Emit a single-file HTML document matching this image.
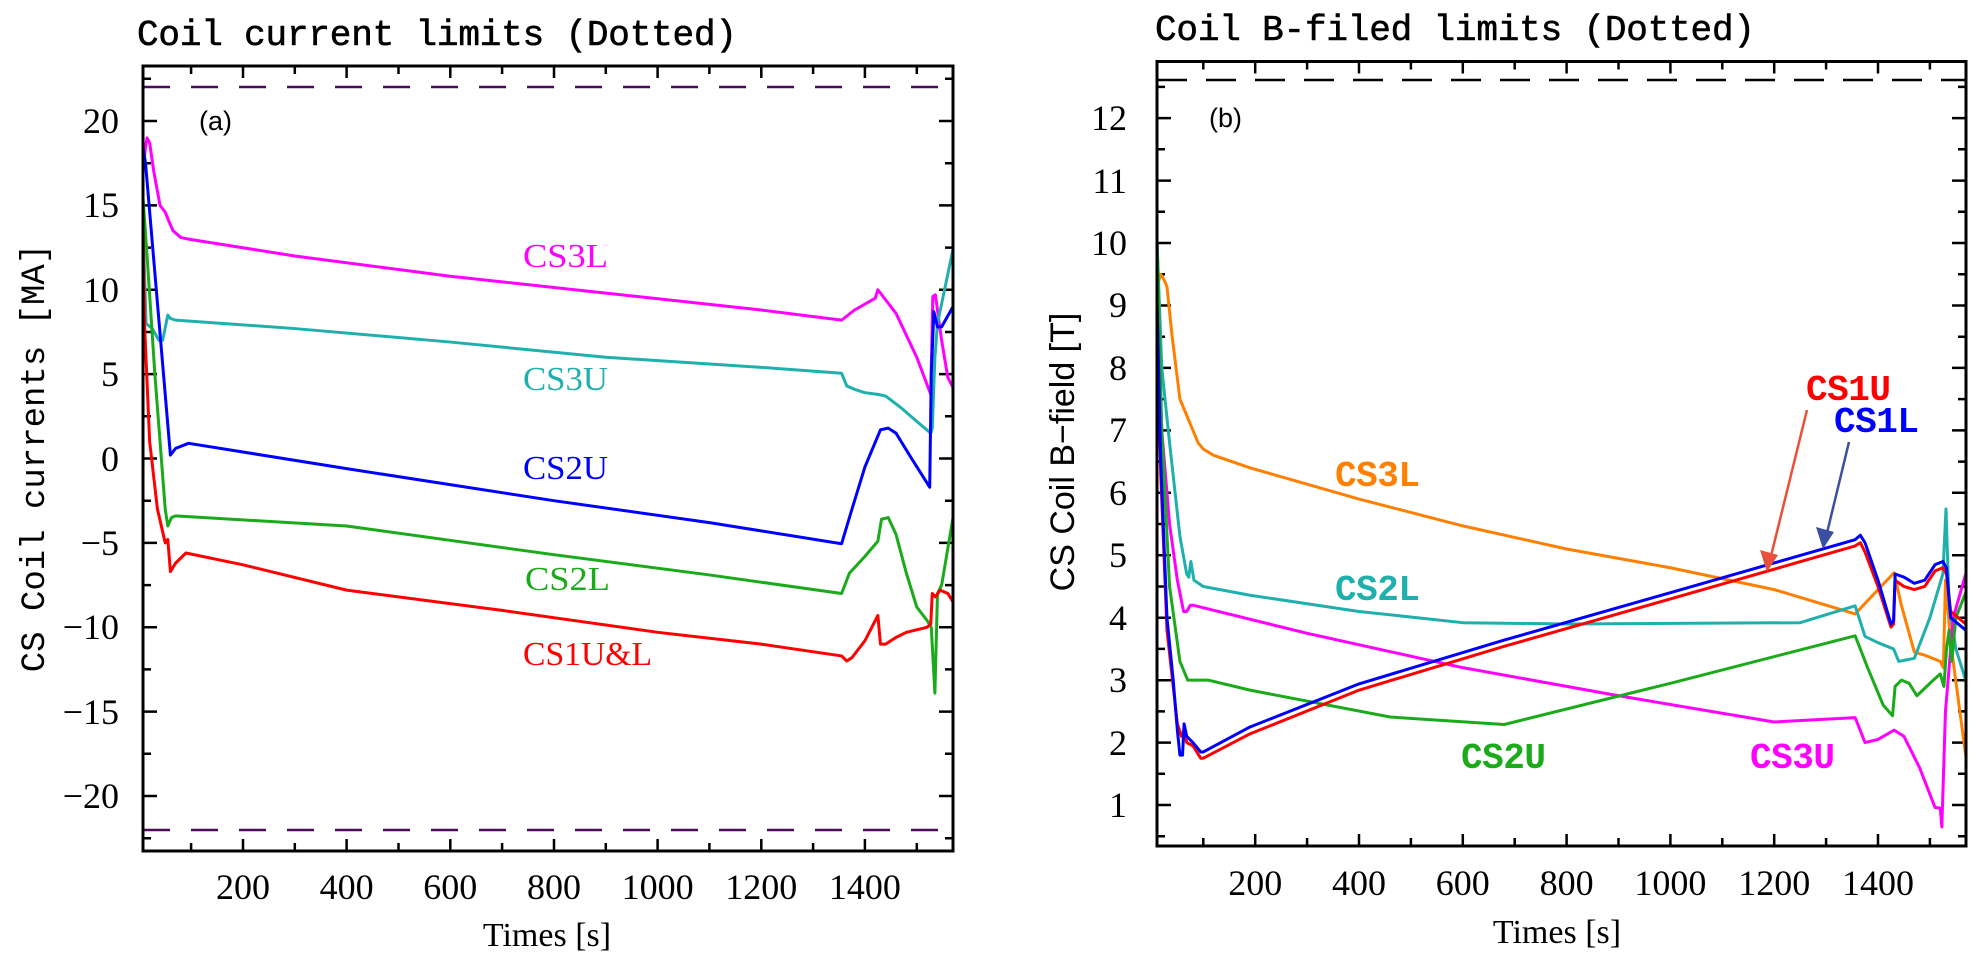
<!DOCTYPE html>
<html><head><meta charset="utf-8"><style>
html,body{margin:0;padding:0;background:#fff;}
svg{display:block;}
.t{font-family:"Liberation Serif",serif;font-size:36px;fill:#000;}
.mono{font-family:"Liberation Mono",monospace;font-size:36px;fill:#000;stroke:#000;stroke-width:0.6;}
.s{fill:none;stroke-width:3;vector-effect:non-scaling-stroke;stroke-linejoin:round;}
.lab{font-family:"Liberation Serif",serif;font-size:34px;}
.labr{font-family:"Liberation Mono",monospace;font-size:36px;font-weight:bold;}
</style></head><body>
<svg width="1979" height="968" viewBox="0 0 1979 968" xmlns="http://www.w3.org/2000/svg">
<defs>
<clipPath id="cl"><rect x="143" y="66" width="810" height="785"/></clipPath>
<clipPath id="cr"><rect x="1157" y="61.5" width="809" height="784.5"/></clipPath>
</defs>

<!-- ===== LEFT PLOT ===== -->
<text class="mono" x="137" y="45" textLength="600">Coil current limits (Dotted)</text>
<line x1="143" y1="87" x2="953" y2="87" stroke="#4b0a5a" stroke-width="2.5" stroke-dasharray="27,21"/>
<line x1="143" y1="830" x2="953" y2="830" stroke="#4b0a5a" stroke-width="2.5" stroke-dasharray="27,21"/>
<g stroke="#000" stroke-width="2.5" fill="none">
<path d="M143,121h14M143,205.4h14M143,289.75h14M143,374.1h14M143,458.5h14M143,542.9h14M143,627.25h14M143,711.6h14M143,796h14
M143,78.8h8M143,163.2h8M143,247.6h8M143,332h8M143,416.3h8M143,500.7h8M143,585.1h8M143,669.4h8M143,753.8h8M143,838.2h8
M953,121h-14M953,205.4h-14M953,289.75h-14M953,374.1h-14M953,458.5h-14M953,542.9h-14M953,627.25h-14M953,711.6h-14M953,796h-14
M953,78.8h-8M953,163.2h-8M953,247.6h-8M953,332h-8M953,416.3h-8M953,500.7h-8M953,585.1h-8M953,669.4h-8M953,753.8h-8M953,838.2h-8
M243,851v-12M346.6,851v-12M450.3,851v-12M554,851v-12M657.6,851v-12M761.3,851v-12M864.9,851v-12
M191.1,851v-8M294.8,851v-8M398.5,851v-8M502.1,851v-8M605.8,851v-8M709.4,851v-8M813.1,851v-8M916.8,851v-8
M243,66v12M346.6,66v12M450.3,66v12M554,66v12M657.6,66v12M761.3,66v12M864.9,66v12
M191.1,66v8M294.8,66v8M398.5,66v8M502.1,66v8M605.8,66v8M709.4,66v8M813.1,66v8M916.8,66v8"/>
</g>
<g clip-path="url(#cl)">
<g transform="matrix(0.5183 0 0 -16.875 139.3 458.5)">
<polyline class="s" stroke="#ff00ff" points="7,17 12,18.5 15,19 20,18.7 28,17 40,15 50,14.6 58,14 65,13.5 80,13.1 95,13 300,12 600,10.8 900,9.8 1200,8.8 1355,8.2 1380,8.8 1420,9.5 1425,10 1430,9.8 1460,8.6 1500,6 1527,3.8 1531,9.6 1536,9.7 1548,7 1560,4.8 1570,4.2"/>
<polyline class="s" stroke="#1fb0ad" points="7,14 10,11 13,8 25,7.7 38,7 45,7 55,8.5 60,8.3 70,8.2 300,7.7 600,6.9 900,6 1200,5.4 1355,5.05 1365,4.3 1380,4.1 1400,3.9 1425,3.8 1440,3.7 1470,3 1500,2.2 1527,1.5 1530,1.8 1535,6 1540,8 1570,12.4"/>
<polyline class="s" stroke="#0000ff" points="7,18.5 12,17.5 60,0.2 70,0.6 95,0.9 400,-0.6 800,-2.5 1100,-3.8 1355,-5.05 1375,-3 1400,-0.5 1430,1.7 1445,1.8 1460,1.5 1490,0 1525,-1.7 1528,5 1533,8.7 1540,7.8 1548,7.8 1570,9"/>
<polyline class="s" stroke="#1aaa1a" points="7,15.5 15,12 30,5 50,-3 55,-4 62,-3.5 70,-3.4 400,-4 800,-5.7 1100,-6.9 1355,-8 1370,-6.8 1400,-5.8 1425,-4.9 1432,-3.6 1445,-3.5 1460,-4.5 1480,-6.8 1500,-8.8 1520,-9.6 1528,-10 1535,-13.9 1540,-8 1548,-7.5 1570,-3.5"/>
<polyline class="s" stroke="#ff0000" points="7,14 10,8 20,1 35,-3 50,-5 55,-4.8 60,-6.7 70,-6.2 90,-5.6 200,-6.3 400,-7.8 700,-9 1000,-10.3 1200,-11 1355,-11.7 1365,-12 1375,-11.8 1400,-10.8 1425,-9.3 1430,-11 1440,-11 1460,-10.6 1480,-10.3 1520,-10 1527,-9.8 1530,-8 1536,-8.2 1545,-7.8 1560,-8 1570,-8.5"/>
</g></g>
<rect x="143" y="66" width="810" height="785" fill="none" stroke="#000" stroke-width="3"/>
<g class="t" text-anchor="end">
<text x="119" y="133">20</text><text x="119" y="217">15</text><text x="119" y="302">10</text><text x="119" y="386">5</text><text x="119" y="471">0</text>
<text x="119" y="555">−5</text><text x="119" y="639">−10</text><text x="119" y="724">−15</text><text x="119" y="808">−20</text>
</g>
<g class="t" text-anchor="middle">
<text x="243" y="899">200</text><text x="346.6" y="899">400</text><text x="450.3" y="899">600</text><text x="554" y="899">800</text><text x="657.6" y="899">1000</text><text x="761.3" y="899">1200</text><text x="864.9" y="899">1400</text>
<text x="547" y="946" style="font-size:34px">Times [s]</text>
</g>
<text class="t" transform="translate(44,458) rotate(-90)" text-anchor="middle" style="font-family:'Liberation Mono',monospace;font-size:34px">CS Coil currents [MA]</text>
<text x="199" y="130" style="font-family:'Liberation Sans',sans-serif;font-size:27px">(a)</text>
<text class="lab" x="523" y="267" fill="#ff00ff" textLength="85" lengthAdjust="spacingAndGlyphs">CS3L</text>
<text class="lab" x="523" y="390" fill="#1fb0ad" textLength="85" lengthAdjust="spacingAndGlyphs">CS3U</text>
<text class="lab" x="523" y="479" fill="#0000ff" textLength="85" lengthAdjust="spacingAndGlyphs">CS2U</text>
<text class="lab" x="525" y="590" fill="#1aaa1a" textLength="85" lengthAdjust="spacingAndGlyphs">CS2L</text>
<text class="lab" x="523" y="665" fill="#ff0000" textLength="129" lengthAdjust="spacingAndGlyphs">CS1U&amp;L</text>

<!-- ===== RIGHT PLOT ===== -->
<text class="mono" x="1155" y="40" textLength="600">Coil B-filed limits (Dotted)</text>
<line x1="1157" y1="80" x2="1966" y2="80" stroke="#000" stroke-width="2.5" stroke-dasharray="30,19"/>
<g stroke="#000" stroke-width="2.5" fill="none">
<path d="M1157,805h14M1157,742.6h14M1157,680.2h14M1157,617.7h14M1157,555.3h14M1157,492.8h14M1157,430.4h14M1157,367.9h14M1157,305.5h14M1157,243h14M1157,180.6h14M1157,118.1h14
M1157,836.3h8M1157,773.8h8M1157,711.4h8M1157,648.9h8M1157,586.5h8M1157,524h8M1157,461.6h8M1157,399.1h8M1157,336.7h8M1157,274.2h8M1157,211.8h8M1157,149.3h8M1157,86.9h8
M1966,805h-14M1966,742.6h-14M1966,680.2h-14M1966,617.7h-14M1966,555.3h-14M1966,492.8h-14M1966,430.4h-14M1966,367.9h-14M1966,305.5h-14M1966,243h-14M1966,180.6h-14M1966,118.1h-14
M1966,836.3h-8M1966,773.8h-8M1966,711.4h-8M1966,648.9h-8M1966,586.5h-8M1966,524h-8M1966,461.6h-8M1966,399.1h-8M1966,336.7h-8M1966,274.2h-8M1966,211.8h-8M1966,149.3h-8M1966,86.9h-8
M1255.2,846v-12M1359,846v-12M1462.8,846v-12M1566.6,846v-12M1670.4,846v-12M1774.2,846v-12M1878,846v-12
M1203.3,846v-8M1307.1,846v-8M1410.9,846v-8M1514.7,846v-8M1618.5,846v-8M1722.3,846v-8M1826.1,846v-8M1929.9,846v-8
M1255.2,61.5v12M1359,61.5v12M1462.8,61.5v12M1566.6,61.5v12M1670.4,61.5v12M1774.2,61.5v12M1878,61.5v12
M1203.3,61.5v8M1307.1,61.5v8M1410.9,61.5v8M1514.7,61.5v8M1618.5,61.5v8M1722.3,61.5v8M1826.1,61.5v8M1929.9,61.5v8"/>
</g>
<g clip-path="url(#cr)">
<g transform="matrix(0.519 0 0 -62.45 1151.4 867.5)">
<polyline class="s" stroke="#ff8000" points="11,9.3 18,9.5 25,9.4 30,9.3 40,8.5 55,7.5 65,7.3 80,7 90,6.8 100,6.7 120,6.6 190,6.4 400,5.9 600,5.47 800,5.1 1000,4.8 1200,4.45 1356,4.06 1400,4.45 1431,4.72 1445,4.2 1470,3.45 1490,3.4 1520,3.3 1526,3.2 1530,4.6 1540,3.6 1569,1.8"/>
<polyline class="s" stroke="#1fb0ad" points="11,10 20,8 35,6.8 55,5.3 68,4.7 72,4.65 76,4.9 82,4.6 100,4.5 190,4.36 400,4.1 600,3.92 800,3.9 1250,3.92 1356,4.19 1375,3.7 1400,3.6 1430,3.5 1440,3.3 1470,3.35 1500,4 1525,4.7 1531,5.74 1537,4.2 1550,3.5 1569,3"/>
<polyline class="s" stroke="#ff00ff" points="11,9 20,7 35,5.5 50,4.6 62,4.1 68,4.1 75,4.2 80,4.2 300,3.75 600,3.2 900,2.75 1200,2.33 1356,2.4 1375,2 1400,2.05 1431,2.2 1450,2.1 1480,1.6 1510,0.96 1520,0.95 1523,0.65 1530,2.5 1545,4 1569,4.7"/>
<polyline class="s" stroke="#1aaa1a" points="11,10 20,7 35,4.5 55,3.3 70,3 110,3 190,2.84 460,2.41 680,2.29 1000,2.95 1356,3.71 1380,3.2 1410,2.6 1428,2.43 1433,2.9 1445,3 1460,2.95 1475,2.75 1500,2.95 1520,3.1 1527,2.9 1532,3.5 1537,3.8 1542,3.3 1550,4 1569,4.4"/>
<polyline class="s" stroke="#ff0000" points="11,9 18,6.3 30,3.8 42,2.9 50,2.3 58,2.1 63,2.2 68,2 80,1.95 95,1.75 100,1.75 190,2.14 400,2.84 679,3.54 1000,4.3 1356,5.15 1366,5.2 1375,5.05 1400,4.5 1425,3.85 1430,3.9 1433,4.6 1450,4.5 1470,4.45 1490,4.5 1510,4.75 1525,4.8 1532,4.7 1540,4.1 1569,3.9"/>
<polyline class="s" stroke="#0000ff" points="11,9 18,6.5 30,4 42,3 50,2.2 55,1.8 60,1.8 63,2.3 68,2.1 80,2 95,1.85 100,1.85 190,2.25 400,2.94 679,3.64 1000,4.4 1356,5.25 1366,5.32 1375,5.2 1400,4.6 1425,3.9 1430,3.95 1433,4.7 1450,4.65 1470,4.55 1490,4.6 1510,4.85 1525,4.9 1532,4.8 1540,4 1569,3.8"/>
</g></g>
<rect x="1157" y="61.5" width="809" height="784.5" fill="none" stroke="#000" stroke-width="3"/>
<g class="t" text-anchor="end">
<text x="1127" y="817">1</text><text x="1127" y="755">2</text><text x="1127" y="692">3</text><text x="1127" y="630">4</text><text x="1127" y="567">5</text><text x="1127" y="505">6</text>
<text x="1127" y="442">7</text><text x="1127" y="380">8</text><text x="1127" y="317">9</text><text x="1127" y="255">10</text><text x="1127" y="193">11</text><text x="1127" y="130">12</text>
</g>
<g class="t" text-anchor="middle">
<text x="1255.2" y="895">200</text><text x="1359" y="895">400</text><text x="1462.8" y="895">600</text><text x="1566.6" y="895">800</text><text x="1670.4" y="895">1000</text><text x="1774.2" y="895">1200</text><text x="1878" y="895">1400</text>
<text x="1557" y="943" style="font-size:34px">Times [s]</text>
</g>
<text class="t" transform="translate(1074,452) rotate(-90)" text-anchor="middle" style="font-family:'Liberation Sans',sans-serif;font-size:34px">CS Coil B−field [T]</text>
<text x="1209" y="127" style="font-family:'Liberation Sans',sans-serif;font-size:27px">(b)</text>
<text class="labr" x="1806" y="400" fill="#ff0000" textLength="85">CS1U</text>
<text class="labr" x="1834" y="432" fill="#0000ff" textLength="85">CS1L</text>
<text class="labr" x="1335" y="486" fill="#ff8000" textLength="85">CS3L</text>
<text class="labr" x="1335" y="600" fill="#1fb0ad" textLength="85">CS2L</text>
<text class="labr" x="1461" y="768" fill="#1aaa1a" textLength="85">CS2U</text>
<text class="labr" x="1750" y="768" fill="#ff00ff" textLength="85">CS3U</text>
<line x1="1807" y1="410" x2="1770" y2="560" stroke="#e8503a" stroke-width="2.5"/>
<polygon points="1767,572 1760,550 1778,555" fill="#e8503a"/>
<line x1="1849" y1="442" x2="1826" y2="537" stroke="#3a4fa0" stroke-width="2.5"/>
<polygon points="1823,549 1816,527 1834,532" fill="#3a4fa0"/>
</svg>
</body></html>
